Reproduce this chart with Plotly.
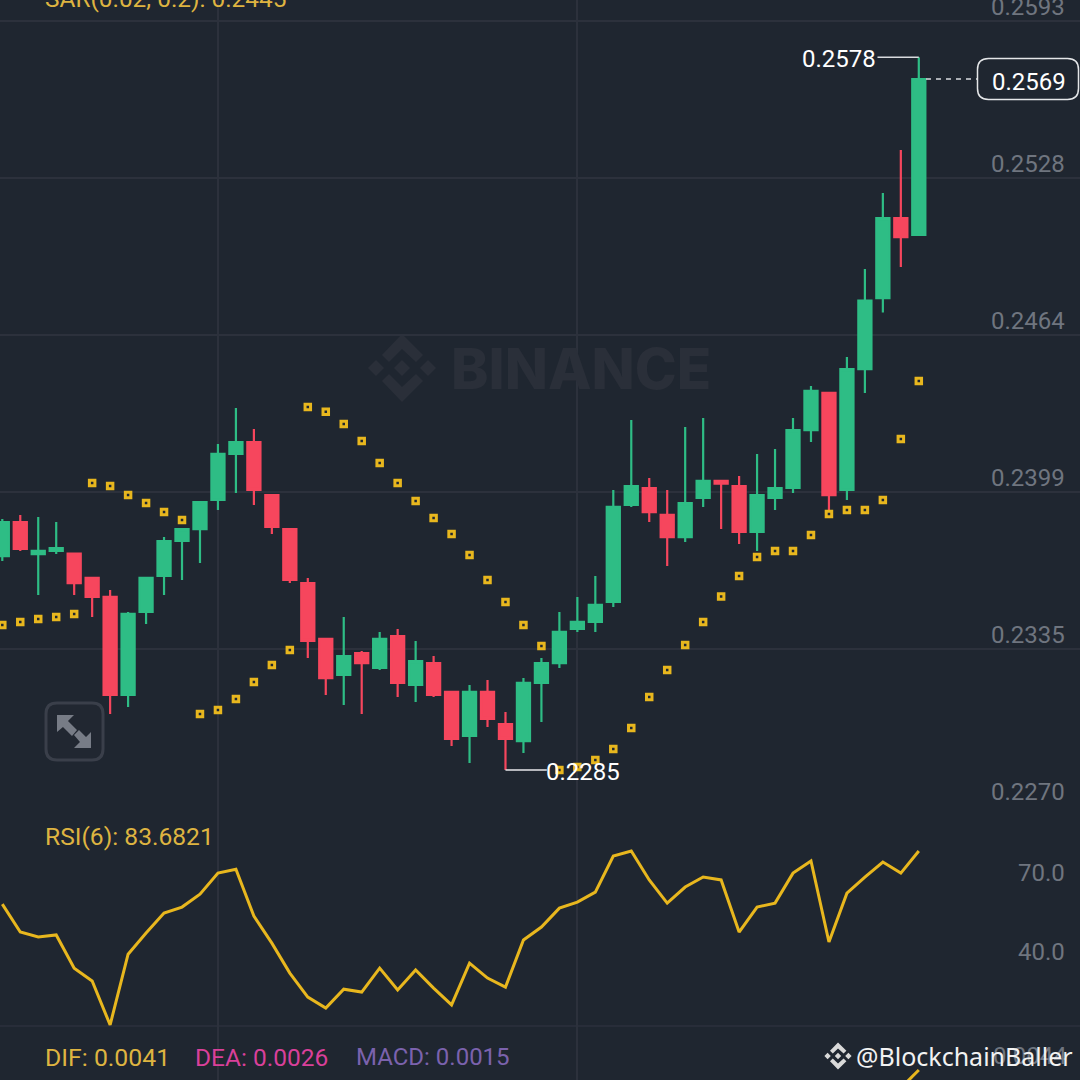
import plotly.graph_objects as go

W, H = 1080, 1080
BG = "#1f2630"
GRID = "#2c313c"
GREEN = "#2ebd85"
RED = "#f6465d"
YELLOW = "#e8b71e"
LABEL_YELLOW = "#deb441"
TICK = "#6f757f"
MARK = "#2a2f39"
FONT = "Roboto"

opens = [0.23728,0.23868,0.23736,0.23749,0.23738,0.23638,0.23560,0.23157,0.23498,0.23646,0.23790,0.23839,0.23959,0.24148,0.24197,0.23979,0.23839,0.23617,0.23387,0.23239,0.23329,0.23268,0.23399,0.23198,0.23288,0.23169,0.22988,0.23169,0.23037,0.22967,0.23206,0.23288,0.23428,0.23457,0.23539,0.23938,0.24008,0.23897,0.23806,0.23967,0.24037,0.24016,0.23827,0.23967,0.24008,0.24246,0.24399,0.24000,0.24497,0.24789,0.25118,0.25049]
highs = [0.23880,0.23897,0.23889,0.23868,0.23741,0.23638,0.23588,0.23498,0.23638,0.23806,0.23839,0.23950,0.24189,0.24337,0.24251,0.23979,0.23839,0.23638,0.23387,0.23477,0.23338,0.23416,0.23428,0.23379,0.23317,0.23169,0.23198,0.23218,0.23087,0.23226,0.23309,0.23498,0.23560,0.23646,0.24000,0.24288,0.24049,0.24000,0.24259,0.24296,0.24037,0.24057,0.24148,0.24168,0.24296,0.24427,0.24399,0.24547,0.24909,0.25221,0.25398,0.25780]
lows = [0.23708,0.23749,0.23568,0.23736,0.23568,0.23477,0.23078,0.23107,0.23449,0.23568,0.23630,0.23699,0.23917,0.23987,0.23938,0.23819,0.23617,0.23309,0.23157,0.23115,0.23078,0.23259,0.23148,0.23128,0.23148,0.22947,0.22877,0.23025,0.22848,0.22918,0.23045,0.23268,0.23416,0.23416,0.23518,0.23930,0.23868,0.23687,0.23786,0.23930,0.23839,0.23778,0.23749,0.23917,0.23987,0.24197,0.23917,0.23959,0.24399,0.24730,0.24917,0.25049]
closes = [0.23868,0.23757,0.23749,0.23761,0.23617,0.23560,0.23157,0.23490,0.23638,0.23790,0.23839,0.23950,0.24148,0.24197,0.24000,0.23848,0.23630,0.23379,0.23226,0.23317,0.23288,0.23387,0.23206,0.23296,0.23157,0.22976,0.23169,0.23058,0.22976,0.23206,0.23288,0.23416,0.23457,0.23527,0.23930,0.24016,0.23909,0.23806,0.23946,0.24037,0.24026,0.23827,0.23979,0.24008,0.24246,0.24407,0.23979,0.24497,0.24779,0.25118,0.25040,0.25690]
sar = [0.23444,0.23457,0.23469,0.23477,0.23490,0.24028,0.24016,0.23979,0.23946,0.23909,0.23876,0.23078,0.23095,0.23140,0.23210,0.23280,0.23342,0.24341,0.24321,0.24271,0.24201,0.24111,0.24028,0.23954,0.23885,0.23819,0.23732,0.23630,0.23539,0.23444,0.23358,0.22848,0.22860,0.22889,0.22934,0.23021,0.23148,0.23259,0.23362,0.23457,0.23562,0.23646,0.23724,0.23749,0.23749,0.23815,0.23901,0.23917,0.23917,0.23959,0.24209,0.24448]
rsi = [63.5,52.9,51.0,51.8,39.2,34.3,17.6,44.5,52.5,60.1,62.4,67.3,75.3,76.8,59.0,48.7,37.3,28.2,24.0,31.2,30.1,39.2,30.9,38.5,31.6,25.2,41.1,35.4,32.0,49.9,54.8,62.0,64.3,68.1,81.8,83.7,72.7,63.9,70.0,73.8,72.7,52.9,62.4,63.9,75.3,79.9,49.1,67.7,73.8,79.5,75.3,83.68]
dif_last = [0.0032, 0.0041]

price_ticks = [0.259285, 0.252828, 0.246371, 0.239914, 0.233457, 0.2270]
rsi_ticks = [70.0, 40.0]
time_ticks = [12, 32]
idx = list(range(len(closes)))

def px(x):
    return x / W
def py(y):
    return 1 - y / H
def poly(points):
    return "M" + " L".join(f"{px(x):.5f},{py(y):.5f}" for x, y in points) + " Z"

def logo_path(cx, cy, s):
    shapes = [
        [(0,-34),(21,-13),(14,-6),(0,-19),(-13,-6),(-20,-13)],
        [(0,34),(21,13),(14,6),(0,19),(-13,6),(-20,13)],
        [(0,-8),(8,0),(0,8),(-8,0)],
        [(-26,-8),(-18,0),(-26,8),(-34,0)],
        [(26,-8),(34,0),(26,8),(18,0)],
    ]
    return " ".join(poly([(cx + a * s, cy + b * s) for a, b in sh]) for sh in shapes)

def round_rect(x0, y0, x1, y1, r):
    return (f"M{px(x0+r):.5f},{py(y0):.5f} L{px(x1-r):.5f},{py(y0):.5f} "
            f"Q{px(x1):.5f},{py(y0):.5f} {px(x1):.5f},{py(y0+r):.5f} "
            f"L{px(x1):.5f},{py(y1-r):.5f} Q{px(x1):.5f},{py(y1):.5f} {px(x1-r):.5f},{py(y1):.5f} "
            f"L{px(x0+r):.5f},{py(y1):.5f} Q{px(x0):.5f},{py(y1):.5f} {px(x0):.5f},{py(y1-r):.5f} "
            f"L{px(x0):.5f},{py(y0+r):.5f} Q{px(x0):.5f},{py(y0):.5f} {px(x0+r):.5f},{py(y0):.5f} Z")

fig = go.Figure()
fig.add_trace(go.Candlestick(
    x=idx, open=opens, high=highs, low=lows, close=closes, xaxis="x", yaxis="y",
    whiskerwidth=0,
    increasing=dict(line=dict(color=GREEN, width=2.2), fillcolor=GREEN),
    decreasing=dict(line=dict(color=RED, width=2.2), fillcolor=RED),
    showlegend=False, name="Price"))
fig.add_trace(go.Scatter(
    x=idx, y=sar, mode="markers", xaxis="x", yaxis="y", showlegend=False, name="SAR",
    marker=dict(symbol="square", size=5.5, color=BG, line=dict(color=YELLOW, width=3))))
fig.add_trace(go.Scatter(
    x=idx, y=rsi, mode="lines", xaxis="x", yaxis="y2", showlegend=False, name="RSI(6)",
    line=dict(color=YELLOW, width=3)))
fig.add_trace(go.Scatter(
    x=idx[-2:], y=dif_last, mode="lines", xaxis="x", yaxis="y3", showlegend=False, name="DIF",
    line=dict(color=YELLOW, width=3)))

shapes = []
shapes.append(dict(type="line", xref="paper", yref="paper", x0=0, x1=1, y0=py(1026), y1=py(1026),
                   line=dict(color=GRID, width=1.5), layer="below"))
shapes.append(dict(type="path", xref="paper", yref="paper", path=logo_path(402, 368, 1.0),
                   fillcolor=MARK, line=dict(width=0), layer="below"))
shapes.append(dict(type="path", xref="paper", yref="paper", path=round_rect(46, 703, 103, 760, 11),
                   fillcolor="#212731", line=dict(color="#3a3f4a", width=3), layer="above"))
shapes.append(dict(type="path", xref="paper", yref="paper",
                   path=poly([(57,715),(74,715),(68,721),(77,730),(72,736),(63,727),(57,732)]),
                   fillcolor="#777c86", line=dict(width=0), layer="above"))
shapes.append(dict(type="path", xref="paper", yref="paper",
                   path=poly([(91,748),(74,748),(80,742),(74,735),(79,730),(86,737),(91,732)]),
                   fillcolor="#777c86", line=dict(width=0), layer="above"))
hi = highs.index(max(highs))
lo = lows.index(min(lows))
shapes.append(dict(type="line", xref="x", yref="y", x0=hi - 2.3, x1=hi, y0=highs[hi], y1=highs[hi],
                   line=dict(color="#d9dbdf", width=1.5)))
shapes.append(dict(type="line", xref="x", yref="y", x0=lo, x1=lo + 2.3, y0=lows[lo], y1=lows[lo],
                   line=dict(color="#e8e9eb", width=1.5)))
shapes.append(dict(type="line", xref="x", yref="y", x0=idx[-1] + 0.4, x1=idx[-1] + 3.25,
                   y0=closes[-1], y1=closes[-1], line=dict(color="#d9dbdf", width=1.5, dash="5px,5px")))
shapes.append(dict(type="path", xref="paper", yref="paper", path=round_rect(977.5, 58.5, 1078.5, 99.5, 11),
                   fillcolor=BG, line=dict(color="#e4e6e8", width=1.5)))
shapes.append(dict(type="path", xref="paper", yref="paper", path=logo_path(838, 1056, 0.4),
                   fillcolor="#d9d9d9", line=dict(width=0), layer="above"))

ann = []
def label(text, x, y, size=24, color=TICK, xanchor="left", family=FONT, weight=None):
    f = dict(size=size, color=color, family=family)
    if weight:
        f["weight"] = weight
    ann.append(dict(text=text, xref="paper", yref="paper", x=px(x), y=py(y), xanchor=xanchor, yanchor="middle",
                    showarrow=False, font=f, borderpad=0, borderwidth=0))

for t in price_ticks:
    ann.append(dict(text=f"{t:.4f}", xref="paper", yref="y", x=px(1067), y=t, yshift=14, xanchor="right",
                    yanchor="middle", showarrow=False, font=dict(size=24, color=TICK, family=FONT)))
for t in rsi_ticks:
    ann.append(dict(text=f"{t:.1f}", xref="paper", yref="y2", x=px(1067), y=t, yshift=14, xanchor="right",
                    yanchor="middle", showarrow=False, font=dict(size=24, color=TICK, family=FONT)))

label("BINANCE", 451, 368, size=56.5, color=MARK, family="Inter", weight=800)
label("SAR(0.02, 0.2): 0.2445", 45, -1, size=24.4, color=LABEL_YELLOW)
label("RSI(6): 83.6821", 45, 836.5, size=24.6, color=LABEL_YELLOW)
label("DIF: 0.0041", 45, 1057, size=24.8, color=LABEL_YELLOW)
label("DEA: 0.0026", 195, 1057, size=24.5, color="#d9409a")
label("MACD: 0.0015", 356, 1057, color="#7b62ad")
label("0.0044", 1067, 1056, xanchor="right")
label("@BlockchainBaller", 856, 1056, size=25, color="#f2f2f2", family="Noto Sans")
label(f"{closes[-1]:.4f}", 1029, 82.5, color="#ffffff", xanchor="center")
ann.append(dict(text=f"{highs[hi]:.4f}", xref="x", yref="y", x=hi - 2.35, y=highs[hi], yshift=-2, xshift=1.5,
                xanchor="right", yanchor="middle", showarrow=False, font=dict(size=24, color="#ffffff", family=FONT)))
ann.append(dict(text=f"{lows[lo]:.4f}", xref="x", yref="y", x=lo + 2.3, y=lows[lo], yshift=-2, xshift=-2.5,
                xanchor="left", yanchor="middle", showarrow=False, font=dict(size=24, color="#ffffff", family=FONT)))

fig.update_layout(
    width=W, height=H, autosize=False,
    margin=dict(l=0, r=0, t=0, b=0, pad=0),
    paper_bgcolor=BG, plot_bgcolor=BG,
    showlegend=False, boxgap=0.27, boxgroupgap=0, dragmode=False,
    font=dict(family=FONT, color=TICK),
    xaxis=dict(range=[-0.128, 59.97], domain=[0, 1], rangeslider=dict(visible=False), tickmode="array",
               tickvals=time_ticks, showticklabels=False, ticks="", showgrid=True, gridcolor=GRID, gridwidth=1.6,
               zeroline=False, showline=False, anchor="y3"),
    yaxis=dict(domain=[py(806), 1], range=[0.2270, 0.26015], tickmode="array", tickvals=price_ticks,
               showticklabels=False, ticks="", showgrid=True, gridcolor=GRID, gridwidth=1.6, zeroline=False,
               showline=False, anchor="x"),
    yaxis2=dict(domain=[py(1026), py(806)], range=[17.2, 100.8], showticklabels=False, ticks="", showgrid=False,
                zeroline=False, showline=False, anchor="x"),
    yaxis3=dict(domain=[0, py(1026)], range=[0.0036, 0.0063], showticklabels=False, ticks="", showgrid=False,
                zeroline=False, showline=False, anchor="x"),
    shapes=shapes, annotations=ann,
)

fig.write_html("out.html", config=dict(displayModeBar=False),
               post_script="document.body.style.margin='0';document.body.style.overflow='hidden';")
